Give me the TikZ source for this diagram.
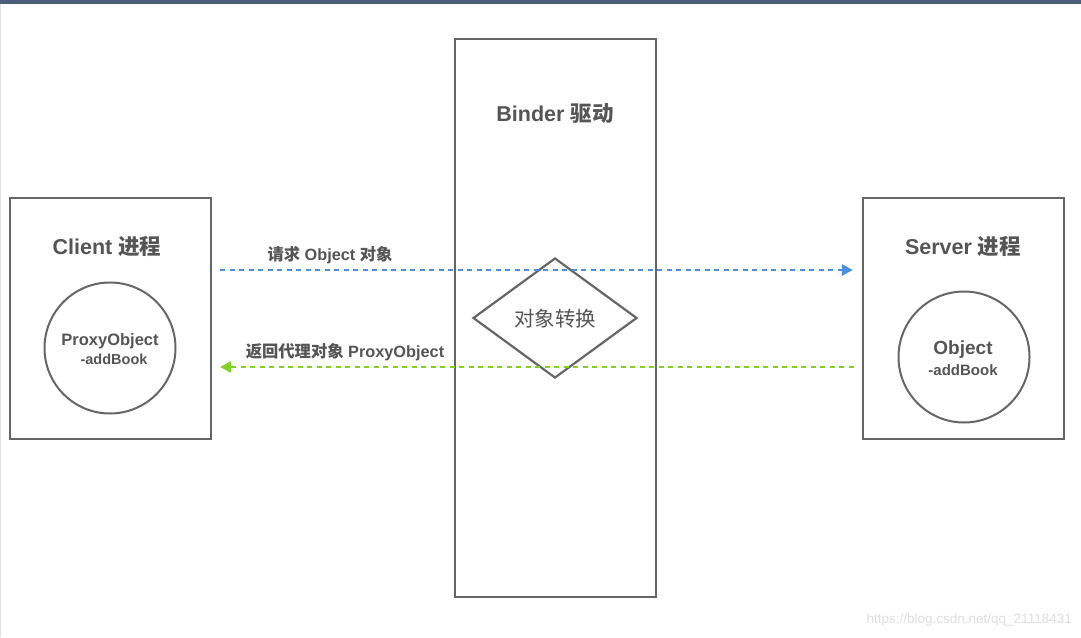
\documentclass[tikz,border=0pt]{standalone}
\usepackage{fontspec}
\setmainfont{Liberation Sans}
\newfontfamily\cjk{Noto Sans CJK SC}
\usetikzlibrary{arrows.meta,shapes.geometric}
\definecolor{edge}{HTML}{666666}
\definecolor{txt}{HTML}{555555}
\definecolor{bar}{HTML}{4F5D7C}
\definecolor{req}{HTML}{4A90E2}
\definecolor{ret}{HTML}{7ED321}
\tikzset{
  procbox/.style={draw=edge, line width=2.2pt, minimum width=201pt, minimum height=241pt, inner sep=0pt},
  objcirc/.style={draw=edge, line width=2pt, circle, minimum size=131pt, inner sep=0pt},
  title/.style={text=txt, font=\fontsize{21.5}{25}\selectfont\bfseries, inner sep=0pt},
  lbl/.style={text=txt, font=\fontsize{16.3}{19}\selectfont\bfseries, inner sep=0pt},
  conn/.style={line width=2.8pt, dash pattern=on 5pt off 4.5pt, -{Triangle[length=11pt,width=11pt]}},
}
\begin{document}
\begin{tikzpicture}[x=1pt,y=-1pt]
\useasboundingbox (0,0) rectangle (1081,637);
\fill[white] (0,0) rectangle (1081,637);
\fill[bar] (0,0) rectangle (1081,4);
\draw[black!12, line width=1pt] (0.5,4) -- (0.5,637);
% Binder
\node[draw=edge, line width=2.2pt, minimum width=201pt, minimum height=558pt, inner sep=0pt] (binder) at (555.5,318) {};
\node[title] (bindert) at (555,114) {Binder {\cjk 驱动}};
\node[draw=edge, line width=2.2pt, diamond, minimum width=164pt, minimum height=120pt, inner sep=0pt, aspect=1.37] (conv) at (555,318) {};
\node[text=txt, font=\fontsize{20.5}{24}\selectfont\cjk, inner sep=0pt] (convt) at (555,319) {对象转换};
% Client
\node[procbox] (client) at (110.5,318.5) {};
\node[title] (clientt) at (107,246) {Client {\cjk 进程}};
\node[objcirc] (ccirc) at (110,348) {};
\node[text=txt, font=\fontsize{16.5}{19}\selectfont\bfseries, inner sep=0pt] (cobj) at (110,341) {ProxyObject};
\node[text=txt, font=\fontsize{14.5}{17}\selectfont\bfseries, inner sep=0pt] (cadd) at (114,359) {-addBook};
% Server
\node[procbox] (server) at (963.5,318.5) {};
\node[title] (servert) at (963,246) {Server {\cjk 进程}};
\node[objcirc] (scirc) at (964,357) {};
\node[text=txt, font=\fontsize{19}{22}\selectfont\bfseries, inner sep=0pt] (sobj) at (963,350) {Object};
\node[text=txt, font=\fontsize{15}{18}\selectfont\bfseries, inner sep=0pt] (sadd) at (963,370) {-addBook};
% connectors
\draw[conn, req] ([xshift=8pt,yshift=48.5pt]client.east) -- ([xshift=-9pt,yshift=48.5pt]server.west);
\draw[conn, ret] ([xshift=-8pt,yshift=-48.5pt]server.west) -- ([xshift=8pt,yshift=-48.5pt]client.east);
\node[lbl] (reqt) at (330,255) {{\cjk 请求} Object {\cjk 对象}};
\node[lbl] (rett) at (345,352) {{\cjk 返回代理对象} ProxyObject};
% watermark
\node[text=black!13, font=\fontsize{13.5}{16}\selectfont, inner sep=0pt, anchor=east] (wm) at (1072,620) {https://blog.csdn.net/qq\_21118431};
\end{tikzpicture}
\end{document}
